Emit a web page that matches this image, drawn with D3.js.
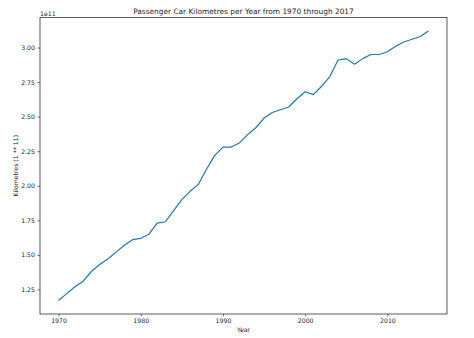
<!DOCTYPE html>
<html>
<head>
<meta charset="utf-8">
<script src="https://cdn.jsdelivr.net/npm/d3@7"></script>
<style>
  html, body { margin: 0; padding: 0; background: #fff; }
  svg { display: block; font-family: "DejaVu Sans", sans-serif; }
</style>
</head>
<body>
<svg id="chart" width="474" height="338"></svg>
<script>
const years = d3.range(1970, 2016);
const kilometres = [
  1.17, 1.22, 1.27, 1.31, 1.38, 1.43, 1.47, 1.52, 1.57, 1.61,
  1.62, 1.65, 1.73, 1.74, 1.82, 1.90, 1.96, 2.01, 2.12, 2.22,
  2.28, 2.28, 2.31, 2.37, 2.42, 2.49, 2.53, 2.55, 2.57, 2.63,
  2.68, 2.66, 2.72, 2.79, 2.91, 2.92, 2.88, 2.92, 2.95, 2.95,
  2.97, 3.01, 3.04, 3.06, 3.08, 3.12
];
const xTicks = [1970, 1980, 1990, 2000, 2010];
const yTicks = [1.25, 1.50, 1.75, 2.00, 2.25, 2.50, 2.75, 3.00];
const titleText = "Passenger Car Kilometres per Year from 1970 through 2017";
const xLabel = "Year";
const yLabel = "Kilometres (1 ** 11)";
const offsetText = "1e11";

const data = years.map((yr, i) => ({ year: yr, value: kilometres[i] }));

const svg = d3.select("#chart");
const mLeft = 40, mRight = 447, mTop = 17.5, mBottom = 314;

const xExt = d3.extent(years);
const xPad = (xExt[1] - xExt[0]) * 0.05;
const x = d3.scaleLinear().domain([xExt[0] - xPad, xExt[1] + xPad]).range([mLeft, mRight]);
const yExt = d3.extent(kilometres);
const yPad = (yExt[1] - yExt[0]) * 0.05;
const y = d3.scaleLinear().domain([yExt[0] - yPad, yExt[1] + yPad]).range([mBottom, mTop]);

const textColor = "#262626";

// line
svg.append("path")
  .datum(data)
  .attr("fill", "none")
  .attr("stroke", "#1f77b4")
  .attr("stroke-width", 1.2)
  .attr("stroke-linejoin", "round")
  .attr("d", d3.line().x(d => x(d.year)).y(d => y(d.value)));

// axes
const xAxis = d3.axisBottom(x).tickValues(xTicks).tickFormat(d3.format("d")).tickSize(2.5).tickPadding(2.5);
const yAxis = d3.axisLeft(y).tickValues(yTicks).tickFormat(d3.format(".2f")).tickSize(2.5).tickPadding(2.5);

const gx = svg.append("g").attr("transform", `translate(0,${mBottom})`).call(xAxis);
const gy = svg.append("g").attr("transform", `translate(${mLeft},0)`).call(yAxis);
[gx, gy].forEach(g => {
  g.select(".domain").remove();
  g.selectAll(".tick line").attr("stroke", "#333").attr("stroke-width", 0.7);
  g.selectAll(".tick text").attr("fill", textColor).attr("font-size", 6.2).attr("font-family", "DejaVu Sans");
});

// frame
svg.append("rect")
  .attr("x", mLeft).attr("y", mTop)
  .attr("width", mRight - mLeft).attr("height", mBottom - mTop)
  .attr("fill", "none").attr("stroke", "#333").attr("stroke-width", 0.8);

// title
svg.append("text")
  .attr("x", (mLeft + mRight) / 2).attr("y", 14)
  .attr("text-anchor", "middle")
  .attr("font-size", 7.4).attr("fill", textColor)
  .text(titleText);

// offset text
svg.append("text")
  .attr("x", mLeft).attr("y", 15.5)
  .attr("font-size", 6.2).attr("fill", textColor)
  .text(offsetText);

// x label
svg.append("text")
  .attr("x", (mLeft + mRight) / 2).attr("y", 332)
  .attr("text-anchor", "middle")
  .attr("font-size", 6.2).attr("fill", textColor)
  .text(xLabel);

// y label
svg.append("text")
  .attr("transform", `translate(18,${(mTop + mBottom) / 2}) rotate(-90)`)
  .attr("text-anchor", "middle")
  .attr("font-size", 6.2).attr("fill", textColor)
  .text(yLabel);
</script>
</body>
</html>
